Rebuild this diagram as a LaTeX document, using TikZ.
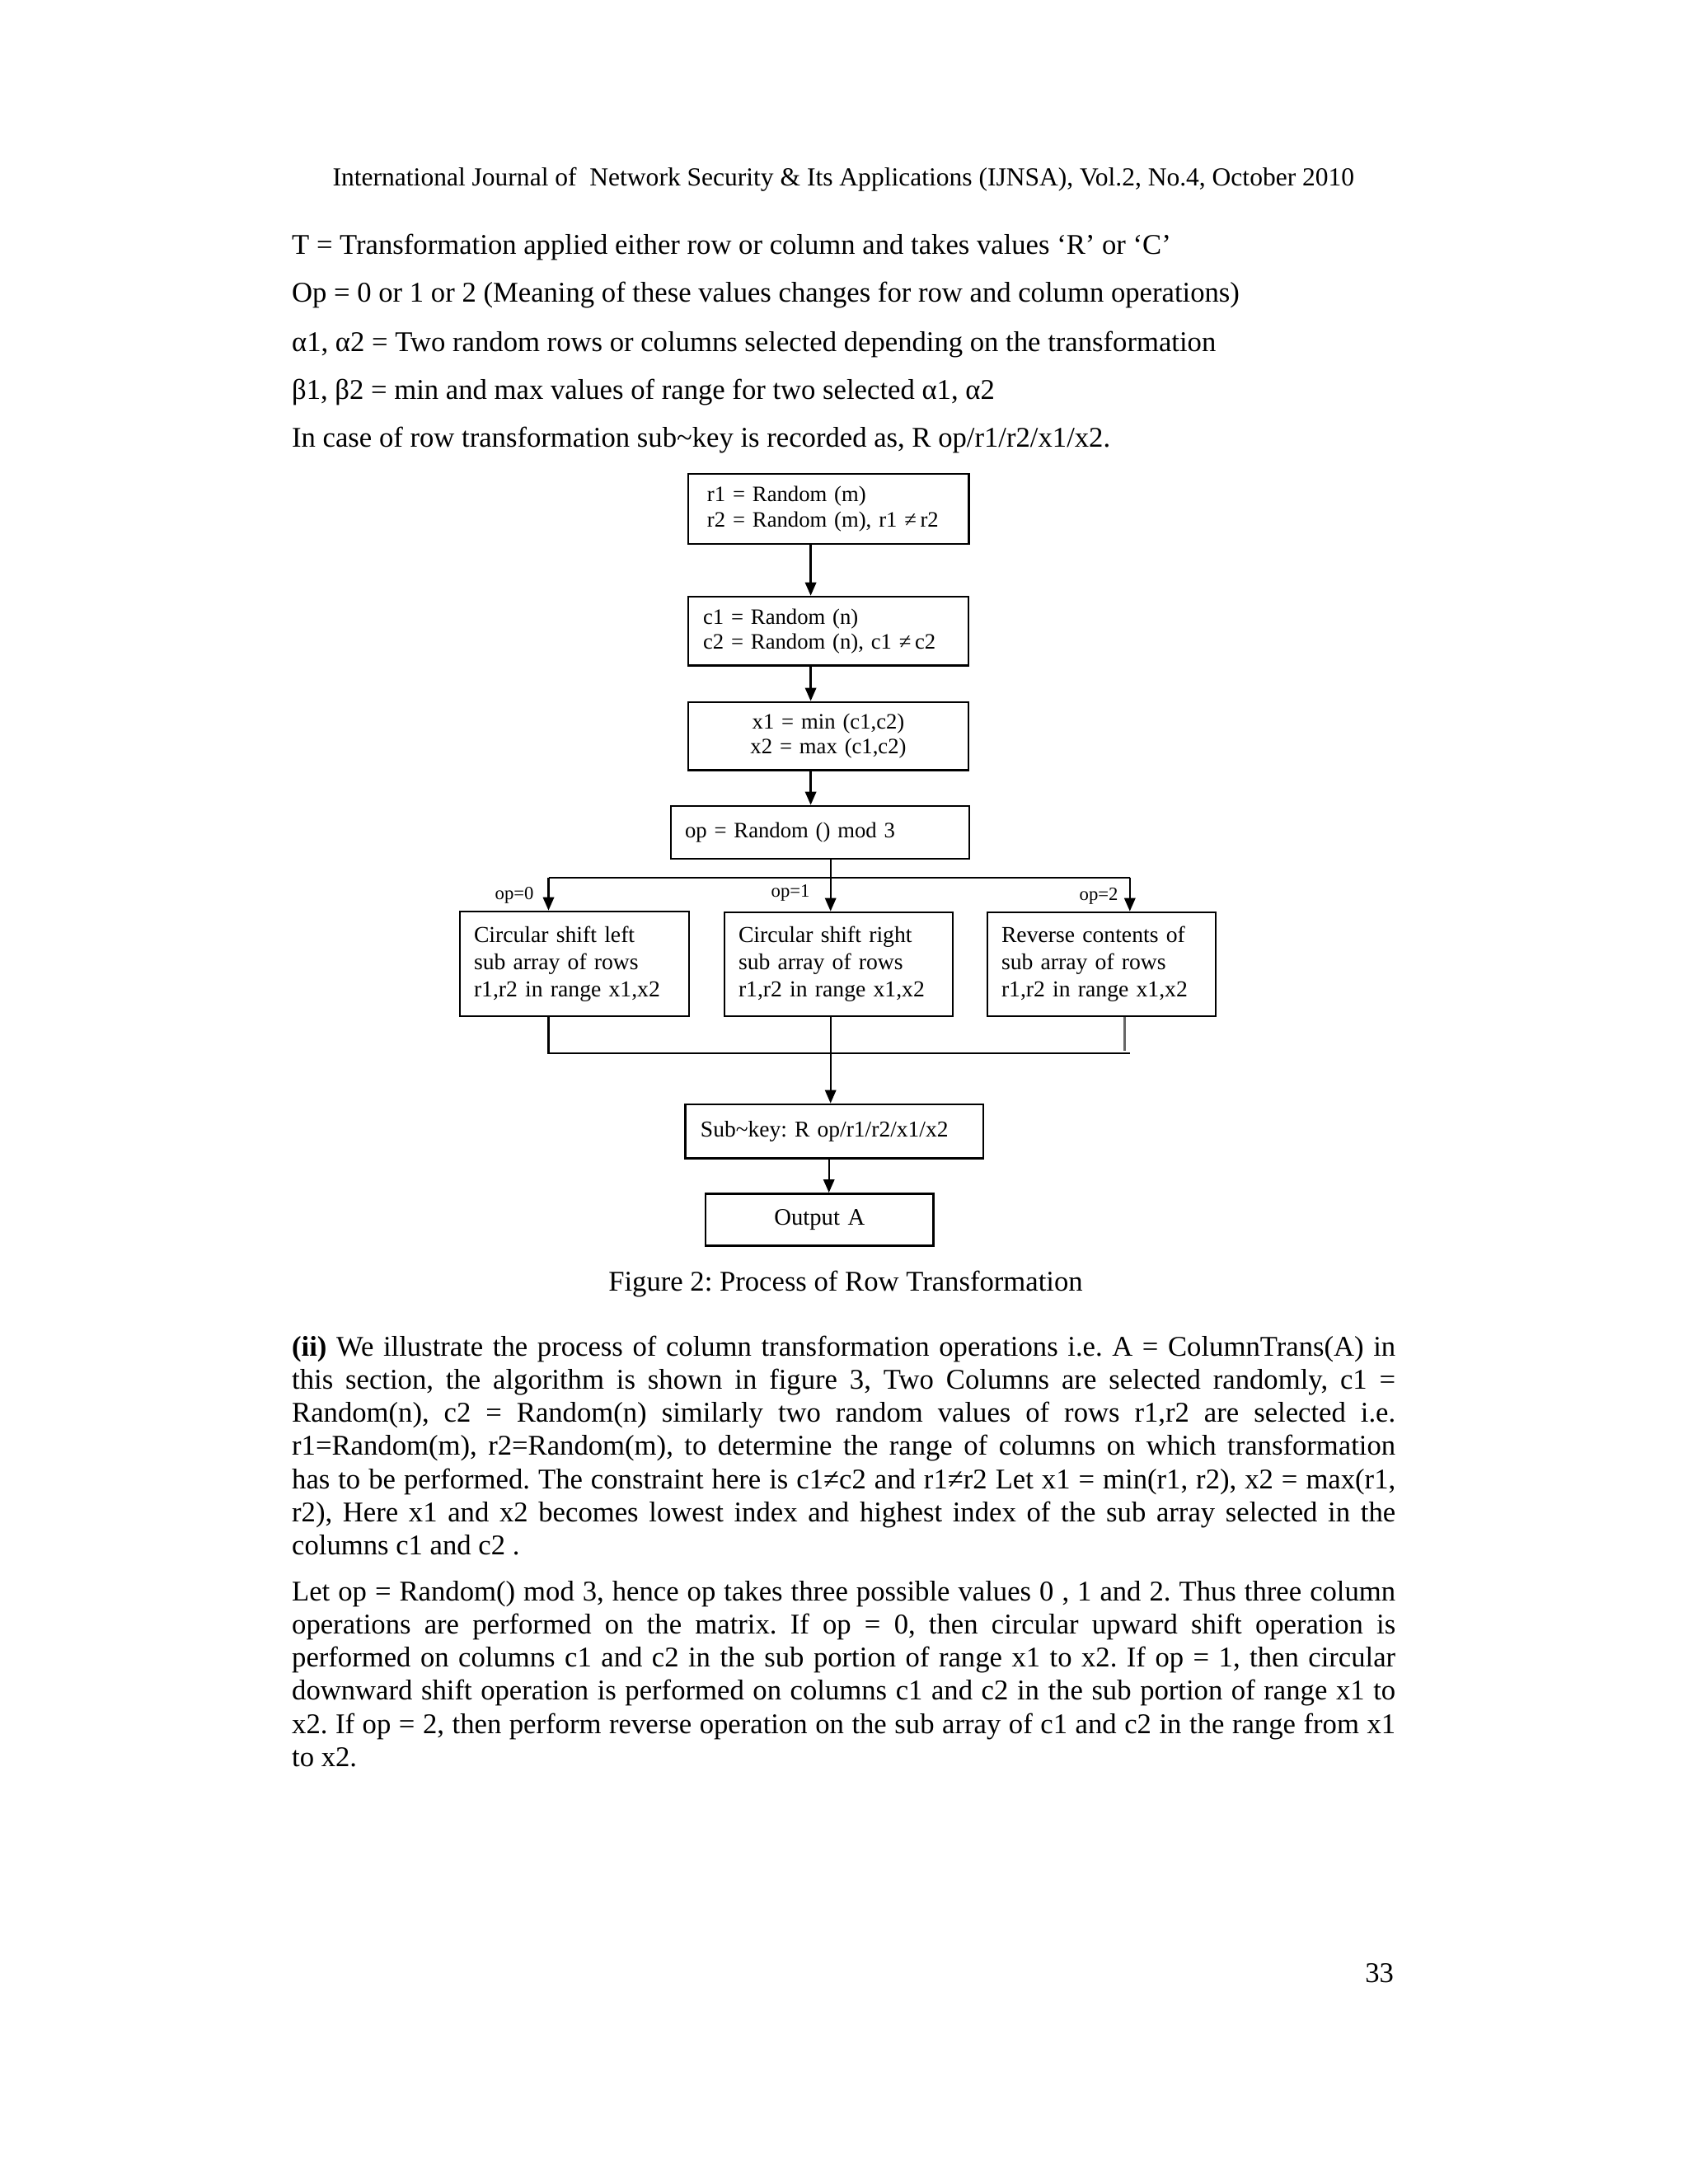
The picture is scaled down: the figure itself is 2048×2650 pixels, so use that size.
\documentclass[tikz,border=0pt]{standalone}
\usepackage{fontspec}
\setmainfont{Liberation Serif}
\newfontfamily\boxfont{Liberation Serif}[WordSpace=0.8]
\usetikzlibrary{arrows.meta}
\frenchspacing
\begin{document}
\begin{tikzpicture}[x=0.3pt,y=-0.3pt,
  txt/.style={anchor=base west,inner sep=0pt,font=\fontsize{10.4}{12}\selectfont},
  bx/.style={draw,line width=0.8pt,inner ysep=0pt,font=\boxfont\fontsize{8}{9.1}\selectfont},
  lbl/.style={anchor=base west,inner sep=0pt,font=\fontsize{6.8}{8}\selectfont},
  ln/.style={line width=0.7pt},
  arr/.style={ln,-{Triangle[length=4.8pt,width=4pt]}}]
\useasboundingbox[fill=white] (0,0) rectangle (2048,2650);
% header and preamble text
\node[txt,font=\fontsize{9.46}{12}\selectfont] (hdr) at (403,225) {International Journal of\ \ Network Security \& Its Applications (IJNSA), Vol.2, No.4, October 2010};
\node[txt] (l1) at (353.5,308) {T = Transformation applied either row or column and takes values ‘R’ or ‘C’};
\node[txt] (l2) at (353.5,366.7) {Op = 0 or 1 or 2 (Meaning of these values changes for row and column operations)};
\node[txt] (l3) at (353.5,426) {α1, α2 = Two random rows or columns selected depending on the transformation};
\node[txt] (l4) at (353.5,484) {β1, β2 = min and max values of range for two selected α1, α2};
\node[txt] (l5) at (353.5,542.7) {In case of row transformation sub\textasciitilde key is recorded as, R op/r1/r2/x1/x2.};
% diagram boxes
\node[bx,minimum width=102.2pt,minimum height=25.5pt,text width=88.4pt,inner xsep=6.9pt,align=left] (b1) at (1005.3,617.5) {r1 = Random (m)\\r2 = Random (m), r1 ≠\,r2};
\node[bx,minimum width=102pt,minimum height=25.1pt,text width=91.2pt,inner xsep=5.4pt,align=left] (b2) at (1005,765.9) {c1 = Random (n)\\c2 = Random (n), c1 ≠\,c2};
\node[bx,minimum width=102pt,minimum height=24.75pt,text width=91.2pt,inner xsep=5.4pt,align=center] (b3) at (1005,893.2) {x1 = min (c1,c2)\\x2 = max (c1,c2)};
\node[bx,minimum width=108.6pt,minimum height=19.2pt,text width=98.4pt,inner xsep=5.1pt,align=left] (b4) at (995,1010) {op = Random () mod 3};
\node[bx,minimum width=83.4pt,minimum height=38.1pt,text width=73.2pt,inner xsep=5.1pt,align=left,font=\fontsize{8.3}{9.9}\selectfont] (b5) at (697,1169.5) {Circular shift left\\sub array of rows\\r1,r2 in range x1,x2};
\node[bx,minimum width=83.1pt,minimum height=37.8pt,text width=72.9pt,inner xsep=5.1pt,align=left,font=\fontsize{8.3}{9.9}\selectfont] (b6) at (1017.5,1170) {Circular shift right\\sub array of rows\\r1,r2 in range x1,x2};
\node[bx,minimum width=83.1pt,minimum height=37.8pt,text width=72.9pt,inner xsep=5.1pt,align=left,font=\fontsize{8.3}{9.9}\selectfont] (b7) at (1336.5,1170) {Reverse contents of\\sub array of rows\\r1,r2 in range x1,x2};
\node[bx,minimum width=108.4pt,minimum height=19.7pt,text width=97.4pt,inner xsep=5.5pt,align=left,font=\fontsize{8.25}{10}\selectfont] (b8) at (1012.3,1372.8) {Sub\textasciitilde key: R op/r1/r2/x1/x2};
\node[bx,minimum width=83pt,minimum height=19pt,text width=75pt,inner xsep=4pt,align=center,font=\fontsize{8.6}{10}\selectfont] (b9) at (994.3,1480) {Output A};
% branch labels
\node[lbl] (op0) at (600,1091.7) {op=0};
\node[lbl] (op1) at (935,1088) {op=1};
\node[lbl] (op2) at (1309,1092) {op=2};
% helper coordinates
\coordinate (xa) at (983.6,0);
\coordinate (xm) at (1007.7,0);
\coordinate (xo) at (1005.7,0);
\coordinate (tl) at (665.5,1065);
\coordinate (tr) at (1370.8,1065);
\coordinate (bl) at (665.5,1277.7);
\coordinate (br) at (1370.8,1277.7);
\coordinate (rr) at (1364.6,1275);
% connectors
\draw[arr] (b1.south -| xa) -- (b2.north -| xa);
\draw[arr] (b2.south -| xa) -- (b3.north -| xa);
\draw[arr] (b3.south -| xa) -- (b4.north -| xa);
\draw[arr] (b4.south -| xm) -- (b6.north -| xm);
\draw[ln] (tl) -- (tr);
\draw[arr] (tl) -- (b5.north -| tl);
\draw[arr] (tr) -- (b7.north -| tr);
\draw[ln] (b5.south -| bl) -- (bl) -- (br);
\draw[ln,black!60] (b7.south -| rr) -- (rr);
\draw[arr] (b6.south -| xm) -- (b8.north -| xm);
\draw[arr] (b8.south -| xo) -- (b9.north -| xo);
% caption
\node[anchor=base,inner sep=0pt,font=\fontsize{10.4}{12}\selectfont] (cap) at (1026,1566.7) {Figure 2: Process of Row Transformation};
% paragraph (ii)
\node[txt] (p1) at (353.5,1645) {\makebox[401.7pt][s]{\textbf{(ii)} We illustrate the process of column transformation operations i.e. A = ColumnTrans(A) in}};
\node[txt] (p2) at (353.5,1685.3) {\makebox[401.7pt][s]{this section, the algorithm is shown in figure 3, Two Columns are selected randomly, c1 =}};
\node[txt] (p3) at (353.5,1725.6) {\makebox[401.7pt][s]{Random(n), c2 = Random(n) similarly two random values of rows r1,r2 are selected i.e.}};
\node[txt] (p4) at (353.5,1765.9) {\makebox[401.7pt][s]{r1=Random(m), r2=Random(m), to determine the range of columns on which transformation}};
\node[txt] (p5) at (353.5,1806.2) {\makebox[401.7pt][s]{has to be performed. The constraint here is c1≠c2 and r1≠r2 Let x1 = min(r1, r2), x2 = max(r1,}};
\node[txt] (p6) at (353.5,1846.5) {\makebox[401.7pt][s]{r2), Here x1 and x2 becomes lowest index and highest index of the sub array selected in the}};
\node[txt] (p7) at (353.5,1886.8) {columns c1 and c2 .};
% paragraph 2
\node[txt] (q1) at (353.5,1942) {\makebox[401.7pt][s]{Let op = Random() mod 3, hence op takes three possible values 0 , 1 and 2. Thus three column}};
\node[txt] (q2) at (353.5,1982.3) {\makebox[401.7pt][s]{operations are performed on the matrix. If op = 0, then circular upward shift operation is}};
\node[txt] (q3) at (353.5,2022.6) {\makebox[401.7pt][s]{performed on columns c1 and c2 in the sub portion of range x1 to x2. If op = 1, then circular}};
\node[txt] (q4) at (353.5,2062.9) {\makebox[401.7pt][s]{downward shift operation is performed on columns c1 and c2 in the sub portion of range x1 to}};
\node[txt] (q5) at (353.5,2103.2) {\makebox[401.7pt][s]{x2. If op = 2, then perform reverse operation on the sub array of c1 and c2 in the range from x1}};
\node[txt] (q6) at (353.5,2143.5) {to x2.};
% page number
\node[anchor=base east,inner sep=0pt,font=\fontsize{10.4}{12}\selectfont] (pg) at (1691.6,2405) {33};
\end{tikzpicture}
\end{document}
